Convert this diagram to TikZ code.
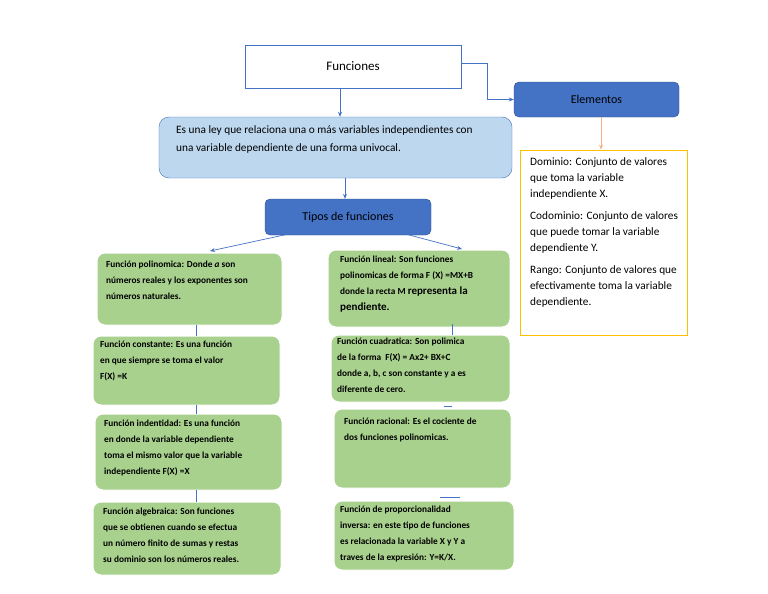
\documentclass[tikz,border=0pt]{standalone}
\usepackage{fontspec}
\setmainfont{Carlito}
\usetikzlibrary{arrows.meta}
\definecolor{bbord}{HTML}{4472C4}
\definecolor{bfill}{HTML}{4472C4}
\definecolor{lblue}{HTML}{BDD7EE}
\definecolor{gfill}{HTML}{A9D18E}
\definecolor{ora}{HTML}{F4B183}
\definecolor{ybord}{HTML}{FFC000}
\tikzset{
 gbox/.style={rounded corners=8pt,fill=gfill,draw=white,line width=1pt},
 gtxt/.style={anchor=north west,align=left,font=\bfseries\fontsize{9.3}{16}\selectfont,inner sep=0pt},
 arr/.style={-{Stealth[length=5pt,width=4pt]},draw=bbord,line width=0.7pt},
 thin/.style={draw=bbord,line width=0.8pt}
}
\begin{document}
\begin{tikzpicture}[x=1pt,y=-1pt]
\useasboundingbox[fill=white] (0,0) rectangle (768,594);
\node[draw=bbord,line width=0.8pt,minimum width=216pt,minimum height=43pt,font=\fontsize{13}{15}\selectfont] (fun) at (353,66.5) {Funciones};
\node[draw=bbord!70!black,fill=bfill,rounded corners=5pt,minimum width=165pt,minimum height=35pt,font=\fontsize{12}{14}\selectfont] (ele) at (596.5,99.5) {Elementos};
\node[draw=bbord,fill=lblue,rounded corners=10pt,minimum width=353pt,minimum height=61pt] (def) at (335.5,147.5) {};
\node[anchor=north west,align=left,inner sep=0pt,font=\fontsize{11.3}{18}\selectfont] at (176,125) {Es una ley que relaciona una o más variables independientes con\\una variable dependiente de una forma univocal.};
\node[draw=ybord,line width=0.8pt,minimum width=167pt,minimum height=185pt] (dom) at (603.5,242.5) {};
\node[anchor=north west,align=left,inner sep=0pt,font=\fontsize{11.3}{16}\selectfont] at (530,157) {Dominio: Conjunto de valores\\que toma la variable\\independiente X.\\[6pt]Codominio: Conjunto de valores\\que puede tomar la variable\\dependiente Y.\\[6pt]Rango: Conjunto de valores que\\efectivamente toma la variable\\dependiente.};
\node[draw=bbord!70!black,fill=bfill,rounded corners=5pt,minimum width=166pt,minimum height=36pt,font=\fontsize{12}{14}\selectfont] (tip) at (348,217) {Tipos de funciones};
\coordinate (c1) at (487,63);
\draw[arr] (fun.east |- c1) -- (c1) |- (ele.west);
\draw[arr] (fun.south -| 340,0) -- (def.north -| 340,0);
\draw[-{Stealth[length=5pt,width=4pt]},draw=ora,line width=0.7pt] (ele.south -| 601,0) -- (dom.north -| 601,0);
\draw[arr] (def.south -| 345,0) -- (tip.north -| 345,0);
\draw[gbox] (97,253) rectangle (282,325);
\draw[gbox] (93,336) rectangle (280,405);
\draw[gbox] (95,414) rectangle (282,490);
\draw[gbox] (93,502) rectangle (281,575);
\draw[gbox] (328,250) rectangle (510,327);
\draw[gbox] (331,335) rectangle (510,402);
\draw[gbox] (334,409) rectangle (511,488);
\draw[gbox] (334,501) rectangle (514,570);
\coordinate (la) at (210,251);
\coordinate (ra) at (462,249);
\draw[arr] (298,232) -- (la);
\draw[arr] (398,232) -- (ra);
\draw[thin] (196,325) -- (196,336);
\draw[thin] (196,405) -- (196,414);
\draw[thin] (196,490) -- (196,502);
\draw[thin] (452,324) -- (452,335);
\draw[thin] (444,406) -- (452,406);
\draw[thin] (440,497) -- (460,497);
\node[gtxt] at (106,261) {Función polinomica: Donde \textit{a} son\\números reales y los exponentes son\\números naturales.};
\node[gtxt] at (100,341) {Función constante: Es una función\\en que siempre se toma el valor\\F(X) =K};
\node[gtxt] at (104,420) {Función indentidad: Es una función\\en donde la variable dependiente\\toma el mismo valor que la variable\\independiente F(X) =X};
\node[gtxt] at (103,508) {Función algebraica: Son funciones\\que se obtienen cuando se efectua\\un número finito de sumas y restas\\su dominio son los números reales.};
\node[gtxt] at (340,256) {Función lineal: Son funciones\\polinomicas de forma F (X) =MX+B\\donde la recta M {\fontsize{11}{13}\selectfont representa la}\\{\fontsize{11}{13}\selectfont pendiente.}};
\node[gtxt] at (337,338) {Función cuadratica: Son polimica\\de la forma\ \ F(X) = Ax2+ BX+C\\donde a, b, c son constante y a es\\diferente de cero.};
\node[gtxt] at (344,418) {Función racional: Es el cociente de\\dos funciones polinomicas.};
\node[gtxt] at (340,506) {Función de proporcionalidad\\inversa: en este tipo de funciones\\es relacionada la variable X y Y a\\traves de la expresión: Y=K/X.};
\end{tikzpicture}
\end{document}
